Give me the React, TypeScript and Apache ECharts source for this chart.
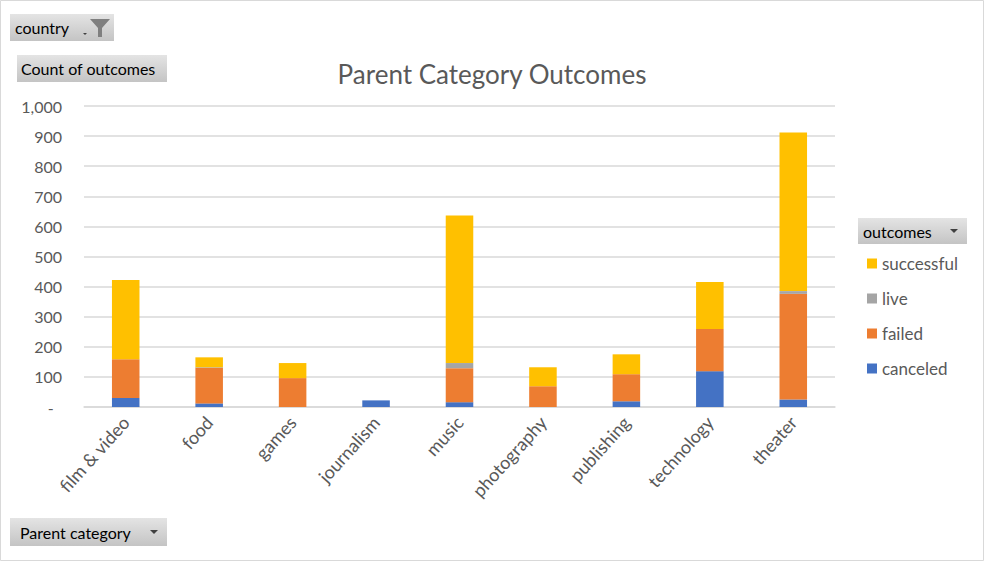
import React, { useEffect, useRef } from "react";
import * as echarts from "echarts";

const categories = ["film & video", "food", "games", "journalism", "music", "photography", "publishing", "technology", "theater"];
const canceled = [30, 12, 0, 22, 16, 0, 19, 119, 25];
const failed = [129, 118, 96, 0, 113, 69, 90, 140, 351];
const live = [0, 2, 0, 0, 17, 0, 0, 0, 9];
const successful = [263, 33, 50, 0, 490, 63, 66, 156, 527];
const legendOrder = ["successful", "live", "failed", "canceled"];

const FONT = "Lato, 'Open Sans', sans-serif";
const GREY = "#595959";

function button(x: number, y: number, w: number, h: number, label: string, tx: number, size: number, extra: any[] = []) {
  return {
    type: "group",
    x,
    y,
    children: [
      {
        type: "rect",
        shape: { x: 0, y: 0, width: w, height: h },
        style: {
          fill: new echarts.graphic.LinearGradient(0, 0, 0, 1, [
            { offset: 0, color: "#e4e4e4" },
            { offset: 1, color: "#c4c4c4" },
          ]),
        },
      },
      {
        type: "text",
        x: tx,
        y: h / 2,
        style: { text: label, font: `${size}px ${FONT}`, fill: "#000", verticalAlign: "middle" },
      },
      ...extra,
    ],
  };
}

export default function App() {
  const ref = useRef<HTMLDivElement>(null);
  useEffect(() => {
    const chart = echarts.init(ref.current!, null, { renderer: "svg" });
    const mk = (name: string, data: number[], color: string) => ({
      name,
      type: "bar",
      stack: "total",
      data,
      barWidth: "33%",
      itemStyle: { color },
    });
    chart.setOption({
      animation: false,
      backgroundColor: "#fff",
      title: {
        text: "Parent Category Outcomes",
        left: 487,
        textAlign: "center",
        top: 56,
        textStyle: { fontFamily: FONT, fontSize: 26, fontWeight: "normal", color: GREY },
      },
      grid: { left: 84, right: 149, top: 106, bottom: 154 },
      legend: {
        data: legendOrder,
        orient: "vertical",
        left: 862,
        top: 250,
        itemGap: 18,
        itemWidth: 10,
        itemHeight: 10,
        icon: "rect",
        textStyle: { fontFamily: FONT, fontSize: 17, color: GREY },
      },
      xAxis: {
        type: "category",
        data: categories,
        axisLine: { lineStyle: { color: "#d9d9d9", width: 1.5 } },
        axisTick: { show: false },
        axisLabel: { rotate: 48, fontFamily: FONT, fontSize: 18, color: GREY, margin: 12, interval: 0 },
      },
      yAxis: {
        type: "value",
        min: 0,
        max: 1000,
        interval: 100,
        axisLine: { show: false },
        axisTick: { show: false },
        splitLine: { lineStyle: { color: "#d9d9d9", width: 1.5 } },
        axisLabel: {
          fontFamily: FONT,
          fontSize: 16,
          color: GREY,
          margin: 22,
          formatter: (v: number) => (v === 0 ? "-  " : v.toLocaleString("en-US")),
        },
      },
      series: [
        mk("canceled", canceled, "#4472C4"),
        mk("failed", failed, "#ED7D31"),
        mk("live", live, "#A5A5A5"),
        mk("successful", successful, "#FFC000"),
      ],
      graphic: [
        {
          type: "rect",
          shape: { x: 0.5, y: 0.5, width: 983, height: 560 },
          style: { fill: "none", stroke: "#d9d9d9", lineWidth: 1 },
          silent: true,
        },
        button(10, 14, 104, 27, "country", 5, 16, [
          { type: "polygon", shape: { points: [[73, 19], [77, 19], [75, 21]] }, style: { fill: "#404040" } },
          {
            type: "polygon",
            shape: { points: [[80, 5], [100, 5], [92, 14], [92, 23], [88, 23], [88, 14]] },
            style: { fill: "#7f7f7f" },
          },
        ]),
        button(17, 55, 150, 27, "Count of outcomes", 4, 16),
        button(858, 218, 109, 26, "outcomes", 5, 16, [
          { type: "polygon", shape: { points: [[92, 11], [100, 11], [96, 15]] }, style: { fill: "#404040" } },
        ]),
        button(10, 518, 157, 28, "Parent category", 10, 16, [
          { type: "polygon", shape: { points: [[140, 12], [148, 12], [144, 16]] }, style: { fill: "#404040" } },
        ]),
      ],
    });
    return () => chart.dispose();
  }, []);
  return <div ref={ref} style={{ position: "fixed", left: 0, top: 0, width: 984, height: 561 }} />;
}
